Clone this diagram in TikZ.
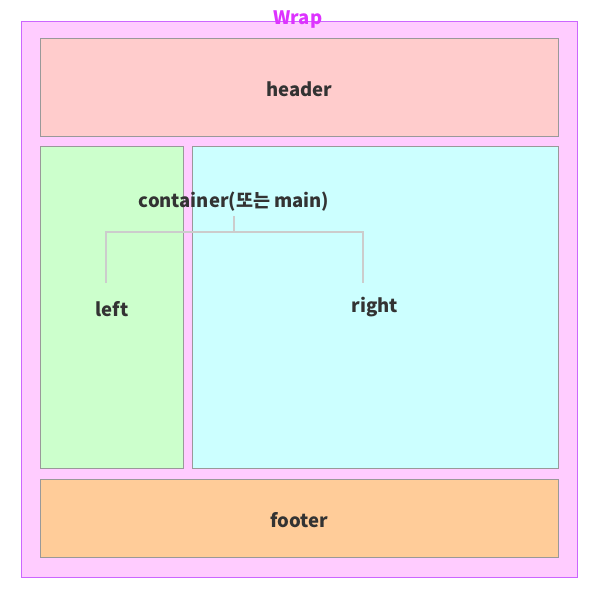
\documentclass[tikz,border=0pt]{standalone}
\usepackage{fontspec}
\setmainfont{Noto Sans CJK KR}
\begin{document}
\begin{tikzpicture}[x=1pt,y=-1pt,
  lbl/.style={text=txt, font=\fontsize{18.5}{22}\selectfont\bfseries, inner sep=0pt},
  tree/.style={draw=treegray, line width=1.5pt}]
\definecolor{wrapfill}{HTML}{FFCCFF}
\definecolor{wrapline}{HTML}{CC66FF}
\definecolor{wraptxt}{HTML}{DD33FF}
\definecolor{headfill}{HTML}{FFCCCC}
\definecolor{leftfill}{HTML}{CCFFCC}
\definecolor{rightfill}{HTML}{CCFFFF}
\definecolor{footfill}{HTML}{FFCC99}
\definecolor{edge}{HTML}{999999}
\definecolor{txt}{HTML}{333333}
\definecolor{treegray}{HTML}{CCCCCC}
\useasboundingbox (0,0) rectangle (600,600);
\fill[white] (0,0) rectangle (600,600);
\filldraw[fill=wrapfill, draw=wrapline, line width=0.8pt] (21.5,21.5) rectangle (577.5,577.5);
\filldraw[fill=headfill, draw=edge, line width=0.8pt] (40.5,38.5) rectangle (558.5,136.5);
\filldraw[fill=leftfill, draw=edge, line width=0.8pt] (40.5,146.5) rectangle (183.5,468.5);
\filldraw[fill=rightfill, draw=edge, line width=0.8pt] (192.5,146.5) rectangle (558.5,468.5);
\filldraw[fill=footfill, draw=edge, line width=0.8pt] (40.5,479.5) rectangle (558.5,557.5);
\node[lbl, text=wraptxt] (wrap) at (298,20) {Wrap};
\node[lbl] (header) at (299,89) {header};
\node[lbl] (cont) at (234,202) {container(또는 main)};
\node[lbl] (left) at (112,309) {left};
\node[lbl] (right) at (375,307) {right};
\node[lbl] (footer) at (299,520) {footer};
\coordinate (bar) at (234,232);
\coordinate (ltop) at (106,283);
\coordinate (rtop) at (363,283);
\draw[tree] (cont.south) ++(0,4) -- (bar);
\draw[tree] (ltop) |- (bar) -| (rtop);
\end{tikzpicture}
\end{document}
